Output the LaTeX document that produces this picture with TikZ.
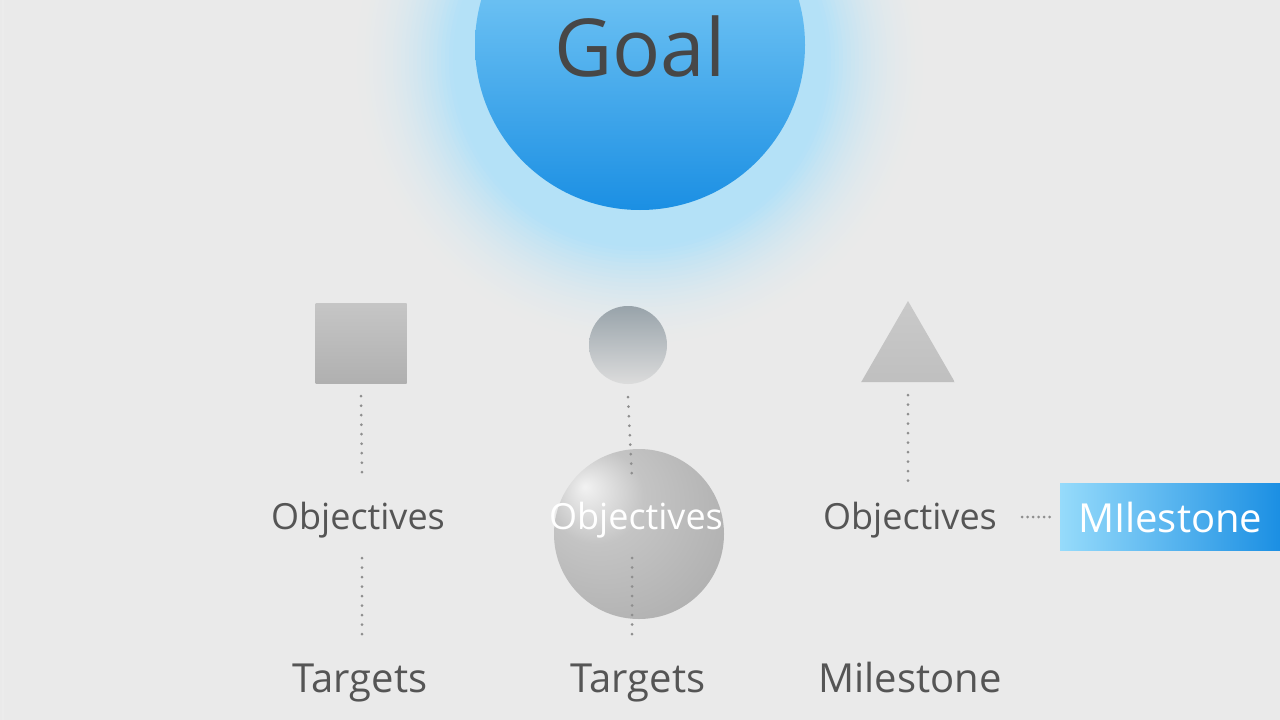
\documentclass[tikz,border=0pt]{standalone}
\usepackage{fontspec}
\setmainfont{Open Sans}
\usetikzlibrary{shapes.geometric}
\definecolor{bgc}{HTML}{EAEAEA}
\definecolor{glowc}{HTML}{B4E1F7}
\definecolor{goaltop}{HTML}{96DBFB}
\definecolor{goalbot}{HTML}{1B8FE3}
\definecolor{labelc}{HTML}{555555}
\definecolor{dotc}{HTML}{8E8E8E}
\definecolor{dottop}{HTML}{98A3AA}
\definecolor{dotbot}{HTML}{DCDCDC}
\definecolor{spherehi}{HTML}{F2F2F2}
\definecolor{spheremid}{HTML}{C4C4C4}
\definecolor{sphereedge}{HTML}{A9A9A9}
\pgfdeclareradialshading{sphere}{\pgfpoint{-16bp}{14bp}}{color(0bp)=(spherehi); color(14bp)=(spheremid); color(40bp)=(sphereedge!85!spheremid); color(66bp)=(sphereedge)}
\tikzset{
    lbl/.style={text=labelc, inner sep=0pt, anchor=base, font=\fontsize{36}{40}\selectfont},
    bigl/.style={lbl, font=\fontsize{40}{44}\selectfont},
    link/.style={draw=dotc, line width=3pt, line cap=round, dash pattern=on 0pt off 9.5pt},
    shapebox/.style={inner sep=0pt, draw=none}
}
\begin{document}
\begin{tikzpicture}[x=1pt,y=-1pt]
    \useasboundingbox (0,0) rectangle (1280,720);
    \fill[bgc] (0,0) rectangle (1280,720);
    \draw[white!85!gray, line width=1.5pt] (3,0) -- (3,720);
    % halo round the goal
    \foreach \i in {0,...,30} {
        \pgfmathsetmacro{\r}{295-4*\i}
        \pgfmathsetmacro{\p}{min(100,\i*\i/7)}
        \fill[glowc!\p!bgc] (640,60) circle (\r pt);
    }
    \node[circle, shapebox, minimum size=330pt, top color=goaltop, bottom color=goalbot] (goal) at (640,45) {};
    \node[text=black!72, inner sep=0pt, anchor=base, font=\fontsize{80}{90}\selectfont] (goaltxt) at (640,76) {Goal};
    % the three shapes
    \node[shapebox, minimum width=91pt, minimum height=80pt, top color=gray!45, bottom color=gray!62] (sq) at (361,343) {};
    \node[circle, shapebox, minimum size=78pt, top color=dottop, bottom color=dotbot] (dot) at (628,345) {};
    \node[regular polygon, regular polygon sides=3, shapebox, minimum size=108pt, top color=gray!42, bottom color=gray!50] (tri) at (908,355) {};
    % big sphere behind the middle column
    \shade[shading=sphere] (639,534) circle (85pt);
    \node[lbl] (obj1) at (358,529) {Objectives};
    \node[lbl, text=white] (obj2) at (636,529) {Objectives};
    \node[lbl] (obj3) at (910,529) {Objectives};
    \node[bigl] (tgt1) at (360,692) {Targets};
    \node[bigl] (tgt2) at (638,692) {Targets};
    \node[bigl] (ms) at (910,692) {Milestone};
    \node[shapebox, anchor=west, minimum width=220pt, minimum height=67pt, left color=goaltop, right color=goalbot,
        text=white, font=\fontsize{40}{44}\selectfont] (msbox) at (1060,517) {MIlestone};
    % dotted links
    \draw[link] ([yshift=-13pt]sq.south) -- ([xshift=4pt,yshift=54pt]obj1.base);
    \draw[link] ([yshift=-13pt]dot.south) -- ([xshift=-4pt,yshift=49pt]obj2.base);
    \draw[link] ([yshift=-13pt]tri.south) -- ([xshift=-2pt,yshift=39pt]obj3.base);
    \draw[link] ([xshift=4pt,yshift=-29pt]obj1.base) -- ([xshift=2pt,yshift=57pt]tgt1.base);
    \draw[link] ([xshift=-4pt,yshift=-29pt]obj2.base) -- ([xshift=-6pt,yshift=57pt]tgt2.base);
    \draw[link, dash pattern=on 0pt off 5.5pt] ([xshift=25pt,yshift=12pt]obj3.base east) -- ([xshift=-5pt]msbox.west);
\end{tikzpicture}
\end{document}
